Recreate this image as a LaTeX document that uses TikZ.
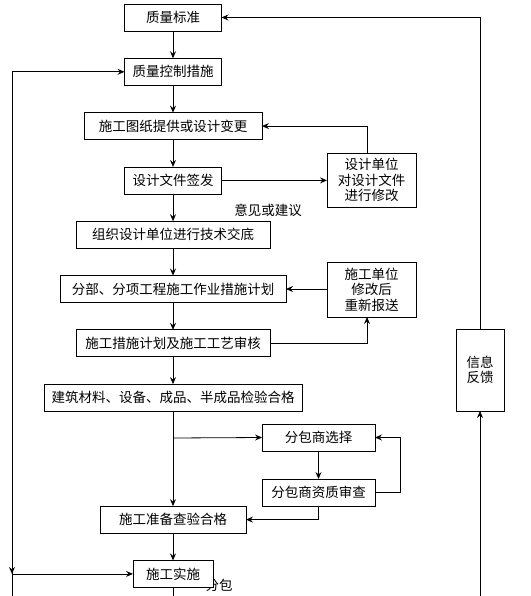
\documentclass[tikz,border=0pt]{standalone}
\usepackage{fontspec}
\setmainfont{Noto Sans CJK SC}
\usetikzlibrary{arrows.meta,positioning}
\tikzset{
  stage/.style={
    draw,
    line width=0.8pt,
    align=center,
    minimum height=27pt,
    inner sep=2pt,
    outer sep=0pt,
    font=\fontsize{13.5}{15.5}\selectfont,
    fill=white
  },
  side/.style={
    stage,
    minimum width=89pt
  },
  note/.style={
    font=\fontsize{13.5}{15.5}\selectfont,
    inner sep=0pt
  },
  flow/.style={
    -{Stealth[length=7pt,width=6pt,inset=2.5pt]},
    line width=0.8pt
  },
  wire/.style={
    line width=0.8pt
  }
}

\begin{document}
\begin{tikzpicture}[x=1pt,y=-1pt,node distance=27.3pt]
  \useasboundingbox (0,0) rectangle (530,596);

  % main column
  \node[stage, minimum width=97pt] (std) at (173,17.5) {质量标准};
  \node[stage, minimum width=97pt, below=of std] (ctrl) {质量控制措施};
  \node[stage, minimum width=178pt, below=of ctrl] (draw) {施工图纸提供或设计变更};
  \node[stage, minimum width=97pt, below=of draw] (sign) {设计文件签发};
  \node[stage, minimum width=194pt, below=of sign] (brief) {组织设计单位进行技术交底};
  \node[stage, minimum width=226pt, below=of brief] (plan) {分部、分项工程施工作业措施计划};
  \node[stage, minimum width=194pt, below=of plan] (audit) {施工措施计划及施工工艺审核};
  \node[stage, minimum width=258pt, below=of audit] (mat) {建筑材料、设备、成品、半成品检验合格};
  \node[stage, minimum width=146pt, below=95pt of mat] (prep) {施工准备查验合格};
  \node[note] (sub) at (219,585) {分包};
  \node[stage, minimum width=80pt, below=of prep] (impl) {施工实施};

  % side boxes
  \node[side, minimum height=54pt] (des) at (371.5,180) {设计单位\\对设计文件\\进行修改};
  \node[side, minimum height=55pt] (rev) at (371.5,289.5) {施工单位\\修改后\\重新报送};
  \node[stage, minimum width=113pt] (pick) at (318.5,437.5) {分包商选择};
  \node[stage, minimum width=113pt] (qual) at (318.5,492.5) {分包商资质审查};
  \node[stage, minimum width=48pt, minimum height=82pt] (info) at (480,370) {信息\\反馈};
  \node[note] (adv) at (268,210) {意见或建议};

  % named points
  \coordinate (desTop) at (367,153);
  \coordinate (revBot) at (367,317);
  \coordinate (split) at (173,438);
  \coordinate (loopR) at (400,492.5);
  \coordinate (fbTop) at (info.north |- std.east);
  \coordinate (fbBot) at (480,596);
  \coordinate (leftTop) at (12,72);
  \coordinate (leftBot) at (12,596);
  \coordinate (leftJ) at (leftTop |- impl.west);
  \coordinate (mainBot) at (173,596);

  % main flow
  \draw[flow] (std) -- (ctrl);
  \draw[flow] (ctrl) -- (draw);
  \draw[flow] (draw) -- (sign);
  \draw[flow] (sign) -- (brief);
  \draw[flow] (brief) -- (plan);
  \draw[flow] (plan) -- (audit);
  \draw[flow] (audit) -- (mat);
  \draw[flow] (mat) -- (prep);
  \draw[flow] (prep) -- (impl);
  \draw[wire] (impl) -- (mainBot);

  % design loop
  \draw[flow] (sign.east) -- (sign.east -| des.west);
  \draw[flow] (desTop) |- (draw.east);
  \draw[flow] (rev.west |- plan.east) -- (plan.east);
  \draw[flow] (audit.east) -| (revBot);

  % subcontractor loop
  \draw[flow] (split) -- (pick.west);
  \draw[flow] (pick) -- (qual);
  \draw[flow] (qual.east) -- (loopR) |- (pick.east);
  \draw[flow] (qual.south) |- (prep.east);

  % feedback
  \draw[flow] (info.north) -- (fbTop) -- (std.east);
  \draw[flow] (fbBot) -- (info.south);
  \draw[flow] (leftBot) |- (ctrl.west);
  \draw[flow] (leftTop) -- (leftJ);
  \draw[flow] (leftJ) -- (impl.west);
\end{tikzpicture}
\end{document}
